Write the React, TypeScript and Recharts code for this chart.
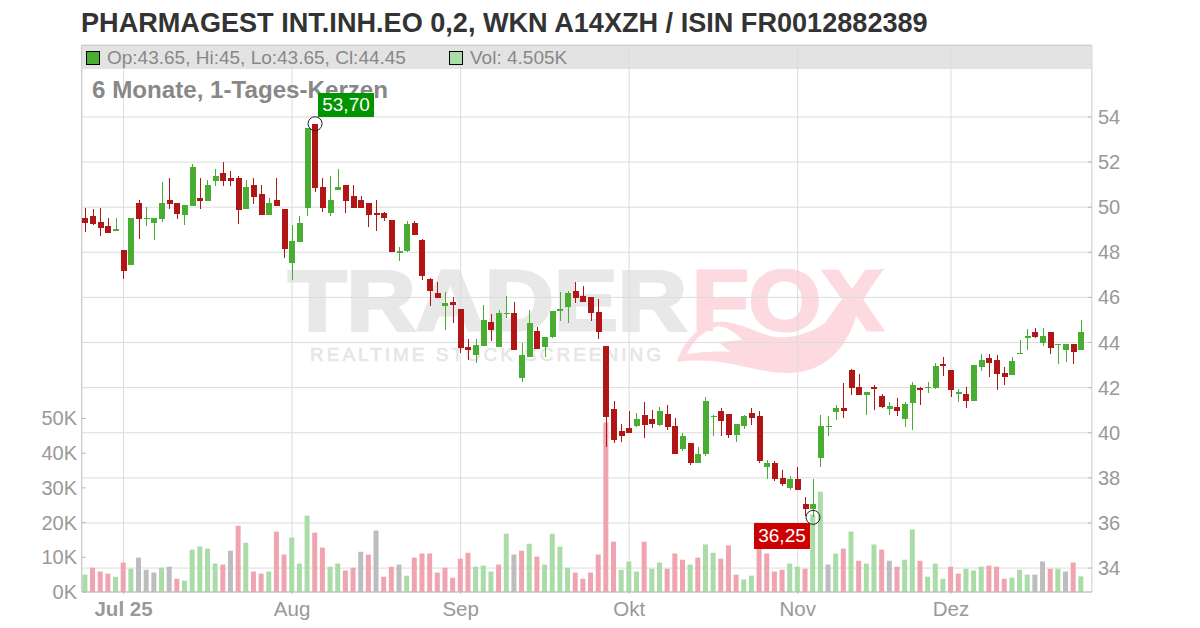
// PHARMAGEST candle chart, 6 months of daily candles with a volume pane.
import { Bar, CartesianGrid, Cell, ComposedChart, ReferenceDot, XAxis, YAxis } from 'recharts';

const opens = [
  49.53, 49.61, 49.35, 49.17, 48.95, 48.1, 47.44, 50.19, 49.48, 49.3,
  49.48, 50.33, 50.19, 49.66, 50.06, 50.41, 50.28, 51.17, 51.53, 51.3,
  51.3, 49.93, 50.99, 50.59, 49.66, 50.33, 49.93, 47.53, 48.46, 49.97,
  53.7, 50.9, 49.75, 50.77, 50.99, 50.51, 50.33, 50.2, 49.75, 49.75,
  49.44, 47.98, 48.07, 49.31, 48.55, 46.82, 46.2, 45.62, 45.8, 45.49,
  43.8, 43.45, 43.85, 44.91, 43.8, 45.27, 45.31, 42.43, 43.36, 44.51,
  43.8, 44.25, 45.4, 45.58, 46.29, 46.07, 46.02, 45.36, 43.85, 41.04,
  40.06, 40.19, 40.28, 40.77, 40.59, 40.33, 40.81, 40.28, 39.3, 39.53,
  38.64, 39.08, 40.68, 40.95, 40.81, 39.88, 40.28, 40.86, 40.73, 38.46,
  38.64, 38.01, 37.57, 37.97, 36.86, 36.64, 38.86, 40.24, 40.9, 41.08,
  42.77, 42.01, 41.66, 42.01, 41.61, 41.04, 41.13, 40.59, 41.3, 41.97,
  41.97, 41.97, 43.04, 42.77, 41.7, 41.7, 41.39, 42.9, 43.3, 43.21,
  42.64, 42.55, 43.48, 44.19, 44.46, 43.97, 44.46, 43.88, 43.66, 43.93, 43.65,
];
const highs = [
  49.97, 49.93, 49.97, 49.53, 49.53, 48.1, 49.53, 50.33, 50.01, 49.53,
  51.13, 51.3, 50.19, 50.1, 51.93, 51.3, 51.21, 51.7, 52.01, 51.61,
  51.39, 51.21, 51.3, 50.99, 50.41, 51.3, 49.93, 49.21, 49.61, 53.53,
  53.7, 51.3, 51.39, 51.7, 50.99, 50.99, 50.51, 50.2, 50.33, 49.8,
  49.44, 48.24, 49.4, 49.4, 48.6, 46.87, 46.69, 46.25, 46.02, 45.49,
  44.16, 44.16, 45.67, 45.27, 45.45, 46.07, 45.8, 43.98, 45.45, 44.69,
  44.25, 45.4, 46.25, 46.29, 46.69, 46.51, 46.02, 45.93, 43.85, 41.39,
  40.37, 40.95, 40.86, 41.35, 40.99, 41.13, 41.21, 40.64, 40.01, 39.53,
  39.39, 41.57, 40.77, 41.08, 40.81, 40.41, 40.77, 41.08, 40.95, 38.81,
  38.73, 38.37, 38.1, 38.5, 37.17, 37.97, 40.77, 40.73, 41.21, 42.19,
  42.81, 42.59, 41.79, 42.1, 41.7, 41.35, 41.53, 41.35, 42.24, 42.01,
  42.24, 43.08, 43.35, 42.77, 41.93, 42.01, 42.99, 43.48, 43.48, 43.44,
  42.9, 43.35, 44.1, 44.59, 44.64, 44.64, 44.46, 43.93, 43.93, 43.93, 45,
];
const lows = [
  48.9, 49.21, 48.73, 48.86, 48.95, 46.81, 47.44, 48.59, 49.17, 48.55,
  49.35, 49.93, 49.48, 49.21, 50.06, 49.93, 50.28, 50.95, 50.95, 50.95,
  49.26, 49.93, 50.15, 49.66, 49.66, 50.06, 47.75, 46.77, 48.46, 49.61,
  50.68, 49.79, 49.62, 50.77, 49.75, 49.97, 49.97, 49.13, 48.95, 49.4,
  48.02, 47.62, 48.02, 48.78, 46.78, 45.62, 45.98, 44.56, 44.87, 43.54,
  43.23, 43.09, 43.85, 44.07, 43.8, 45.09, 43.67, 42.25, 43.36, 43.72,
  43.36, 44.2, 44.96, 44.87, 45.76, 45.8, 44.96, 44.16, 39.39, 39.53,
  39.61, 39.97, 40.24, 39.75, 40.19, 40.28, 40.1, 39.04, 39.17, 38.55,
  38.64, 38.99, 39.84, 39.84, 39.75, 39.57, 40.15, 40.33, 38.64, 37.97,
  37.88, 37.66, 37.44, 37.48, 36.33, 36.25, 38.46, 39.84, 40.55, 40.64,
  41.66, 41.66, 40.77, 40.99, 41.08, 40.77, 40.73, 40.24, 40.1, 41.21,
  41.75, 41.93, 42.5, 41.57, 41.35, 41.08, 41.39, 42.73, 42.46, 41.88,
  42.1, 42.55, 43.48, 43.66, 44.19, 43.84, 43.48, 43.04, 43.13, 43.04, 43.65,
];
const closes = [
  49.3, 49.26, 49.08, 48.86, 49.04, 47.17, 49.53, 49.48, 49.53, 49.53,
  50.19, 50.15, 49.7, 50.1, 51.79, 50.28, 50.99, 51.39, 51.17, 51.17,
  49.88, 50.9, 50.46, 49.66, 50.19, 50.06, 48.15, 48.5, 49.3, 53.53,
  50.86, 49.97, 50.33, 50.91, 50.28, 49.97, 49.97, 49.66, 49.66, 49.53,
  48.02, 48.07, 49.26, 48.78, 46.96, 46.29, 45.98, 45.76, 45.67, 43.76,
  43.67, 43.89, 45, 44.56, 45.31, 45.31, 43.67, 43.45, 44.87, 43.72,
  44.25, 45.4, 45.49, 46.2, 45.98, 45.8, 45.31, 44.47, 40.68, 39.7,
  39.84, 39.97, 40.59, 40.33, 40.37, 40.95, 40.24, 39.04, 39.84, 38.64,
  39.04, 41.39, 40.73, 40.5, 39.88, 40.41, 40.73, 40.64, 38.73, 38.64,
  37.97, 37.75, 37.97, 37.48, 36.64, 36.86, 40.28, 40.28, 41.08, 40.95,
  41.97, 41.66, 41.79, 41.93, 41.13, 41.17, 40.95, 41.26, 42.1, 41.88,
  42.01, 42.95, 42.95, 41.88, 41.79, 41.39, 42.99, 43.21, 43.08, 42.59,
  42.46, 43.17, 43.53, 44.28, 44.24, 44.28, 43.75, 43.93, 43.93, 43.57, 44.45,
];
// volume in thousands
const volumes = [
  5, 7, 5.9, 5.3, 4.4, 8.5, 6.7, 9.9, 6.4, 5.6,
  7, 7.3, 3.8, 3.3, 12.2, 13.1, 12.5, 8.2, 7.9, 11.9,
  19.1, 14.2, 5.9, 5.3, 5.9, 17.4, 10.8, 15.7, 8.2, 22,
  17.1, 12.8, 7.3, 8.2, 6.2, 7, 11.6, 10.8, 17.7, 4.4,
  7.3, 7.9, 4.7, 9.9, 11.1, 11.1, 5.6, 7, 4.1, 9.6,
  11.3, 7.3, 7.6, 5.9, 7.9, 16.8, 10.8, 11.9, 13.9, 10.2,
  7.9, 16.8, 13.1, 7, 5.6, 3.8, 5.6, 10.8, 48.8, 14.5,
  6.4, 8.8, 5.9, 14.5, 6.7, 8.5, 6.7, 11.1, 9.3, 7.9,
  9.9, 13.7, 11.3, 9.6, 13.4, 5, 3.6, 4.7, 12.5, 11.1,
  5.9, 6.4, 8.2, 7.3, 6.7, 22.3, 28.9, 7.9, 11.1, 12.5,
  17.4, 9, 8.2, 13.7, 12.2, 9, 7.3, 9.3, 18, 9,
  4.4, 8.2, 3.8, 7.3, 5.3, 6.7, 6.2, 7.3, 7.6, 7.3,
  3.8, 4.1, 6.4, 5, 5, 8.8, 6.7, 6.7, 5.9, 8.5, 4.505,
];
// g = up day, d = down day, n = neutral (grey)
const volumeTones = (
  'gdddgdgnnn' + 'gndgggggdn' + 'dgddgddggg' + 'ddggddndnd' +
  'dngddddddd' + 'dgggdgndgd' + 'ggggdddddd' + 'gggdggdddg' +
  'dggdddggdd' + 'ddggdggngd' + 'gdggdndggd' + 'gggddgggdd' + 'dgggnndgndg'
).split('');

const priceTicks = [34, 36, 38, 40, 42, 44, 46, 48, 50, 52, 54];
const volumeTicks = [0, 10, 20, 30, 40, 50];
const monthTicks = [5, 27, 49, 71, 93, 113];
const monthLabels = ['Jul 25', 'Aug', 'Sep', 'Okt', 'Nov', 'Dez'];

const GREEN = '#49ad33';
const RED = '#b11616';
const TONE: Record<string, string> = { g: '#aadca8', d: '#f0a4af', n: '#bdbdbd' };
const GREY_TEXT = '#999999';
const FONT = '"Liberation Sans", Arial, sans-serif';

const rows = opens.map((open, i) => ({
  i,
  open,
  close: closes[i],
  range: [lows[i], highs[i]],
  volume: volumes[i],
}));

function Candle(props: any) {
  const { x, y, width, height, payload } = props;
  const [low, high] = payload.range;
  const pxPerUnit = height / (high - low);
  const top = y + (high - Math.max(payload.open, payload.close)) * pxPerUnit;
  const bodyH = Math.max(Math.abs(payload.open - payload.close) * pxPerUnit, 1);
  const color = payload.close >= payload.open ? GREEN : RED;
  const cx = x + width / 2;
  return (
    <g shapeRendering="crispEdges">
      <line x1={cx} x2={cx} y1={y} y2={y + height} stroke={color} strokeWidth={1} />
      <rect x={cx - 3} y={top} width={6} height={bodyH} fill={color} />
    </g>
  );
}

// recharts hands the ticks over 8px outside the plot area
function PriceTick({ x, y, payload }: any) {
  return (
    <g>
      <line x1={x - 12} x2={x - 8} y1={y} y2={y} stroke="#bbbbbb" />
      <text x={x - 2} y={y + 7} fontSize={20} fill={GREY_TEXT} fontFamily={FONT}>
        {payload.value}
      </text>
    </g>
  );
}

function VolumeTick({ x, y, payload }: any) {
  return (
    <g>
      <line x1={x + 8} x2={x + 12} y1={y} y2={y} stroke="#bbbbbb" />
      <text x={x + 3} y={y + 7} fontSize={20} fill={GREY_TEXT} fontFamily={FONT} textAnchor="end">
        {payload.value}K
      </text>
    </g>
  );
}

function MonthTick({ x, y, payload }: any) {
  const idx = monthTicks.indexOf(payload.value);
  return (
    <g>
      <line x1={x} x2={x} y1={y - 9} y2={y - 6} stroke="#bbbbbb" />
      <text
        x={x}
        y={y + 16}
        fontSize={20.5}
        fill={GREY_TEXT}
        fontFamily={FONT}
        fontWeight={idx === 0 ? 700 : 400}
        textAnchor="middle"
      >
        {monthLabels[idx]}
      </text>
    </g>
  );
}

function Watermark() {
  return (
    <svg width={1200} height={628} style={{ position: 'absolute', left: 0, top: 0 }}>
      <g fontFamily={FONT} fontWeight={700}>
        <text x={288} y={330} fontSize={85} textLength={399} lengthAdjust="spacingAndGlyphs" fill="#e8e8e8" stroke="#e8e8e8" strokeWidth={3}>
          TRADER
        </text>
        <text x={692} y={330} fontSize={85} textLength={191} lengthAdjust="spacingAndGlyphs" fill="#fddadf" stroke="#fddadf" strokeWidth={3}>
          FOX
        </text>
        <text x={310} y={361} fontSize={19} fontWeight={400} textLength={351} lengthAdjust="spacing" fill="#e6e6e6" stroke="#e6e6e6" strokeWidth={0.6}>
          REALTIME STOCK SCREENING
        </text>
      </g>
      <path
        fillRule="evenodd"
        fill="#fddadf"
        d="M677 362 C682 345 695 328 715 322 C735 320 750 330 770 336 C800 342 835 325 855 290 C865 277 875 270 885 268 C870 285 862 300 853 325 C843 352 822 372 790 373 C755 374 725 355 677 362 Z
           M687 354 C692 342 703 330 719 326 C730 328 738 335 742 340 C735 341 727 341 719 342 C722 346 727 349 730 352 C715 351 700 352 687 354 Z"
      />
    </svg>
  );
}

export default function App() {
  return (
    <div style={{ position: 'absolute', left: 0, top: 0, width: 1200, height: 628, background: '#fff', fontFamily: FONT, overflow: 'hidden' }}>
      <div style={{ position: 'absolute', left: 81, top: 7, fontSize: 27.1, fontWeight: 700, color: '#333', whiteSpace: 'nowrap' }}>
        PHARMAGEST INT.INH.EO 0,2, WKN A14XZH / ISIN FR0012882389
      </div>
      <div style={{ position: 'absolute', left: 82, top: 45, width: 1010, height: 24, background: '#e3e3e3' }} />
      <Watermark />
      <div style={{ position: 'absolute', left: 81, top: 45, width: 1011, height: 547, borderLeft: '1px solid #bbb', borderTop: '1px solid #bbb', borderRight: '1px solid #ddd', boxSizing: 'border-box' }} />

      <div style={{ position: 'absolute', left: 0, top: 0 }}>
        <ComposedChart
          width={1200}
          height={628}
          data={rows}
          margin={{ top: 45, right: 0, bottom: 0, left: 0 }}
        >
          <CartesianGrid xAxisId="candles" yAxisId="price" stroke="#dcdcdc" />
          <XAxis
            xAxisId="candles"
            dataKey="i"
            type="category"
            ticks={monthTicks}
            interval={0}
            height={36}
            padding={{ left: -0.6, right: 7 }}
            axisLine={{ stroke: '#bbbbbb' }}
            tickLine={false}
            tick={MonthTick}
          />
          <XAxis xAxisId="volume" dataKey="i" type="category" hide height={0} padding={{ left: -0.6, right: 7 }} />
          <YAxis
            yAxisId="volume"
            orientation="left"
            width={82}
            domain={[0, 157.6]}
            allowDataOverflow
            ticks={volumeTicks}
            interval={0}
            axisLine={false}
            tickLine={false}
            tick={VolumeTick}
          />
          <YAxis
            yAxisId="price"
            orientation="right"
            width={108}
            domain={[32.94, 57.19]}
            allowDataOverflow
            ticks={priceTicks}
            interval={0}
            axisLine={false}
            tickLine={false}
            tick={PriceTick}
          />
          <Bar xAxisId="volume" yAxisId="volume" dataKey="volume" barSize={5} isAnimationActive={false}>
            {rows.map((r) => (
              <Cell key={r.i} fill={TONE[volumeTones[r.i]]} />
            ))}
          </Bar>
          <Bar xAxisId="candles" yAxisId="price" dataKey="range" barSize={6} shape={Candle} isAnimationActive={false} />
          <ReferenceDot xAxisId="candles" yAxisId="price" x={30} y={53.7} r={7} fill="none" stroke="#222" strokeWidth={1} />
          <ReferenceDot xAxisId="candles" yAxisId="price" x={95} y={36.25} r={7} fill="none" stroke="#222" strokeWidth={1} />
        </ComposedChart>
      </div>

      <div style={{ position: 'absolute', left: 86, top: 51, width: 12, height: 12, background: GREEN, border: '1px solid #000' }} />
      <div style={{ position: 'absolute', left: 107, top: 47, fontSize: 19, color: '#888', whiteSpace: 'nowrap' }}>
        Op:43.65, Hi:45, Lo:43.65, Cl:44.45
      </div>
      <div style={{ position: 'absolute', left: 449, top: 51, width: 12, height: 12, background: '#aadca8', border: '1px solid #000' }} />
      <div style={{ position: 'absolute', left: 470, top: 47, fontSize: 19, color: '#888', whiteSpace: 'nowrap' }}>
        Vol: 4.505K
      </div>
      <div style={{ position: 'absolute', left: 92, top: 76, fontSize: 24.15, fontWeight: 700, color: '#888', whiteSpace: 'nowrap' }}>
        6 Monate, 1-Tages-Kerzen
      </div>
      <div style={{ position: 'absolute', left: 318, top: 93, width: 56, height: 24, lineHeight: '24px', background: '#009400', color: '#fff', fontSize: 19, textAlign: 'center' }}>
        53,70
      </div>
      <div style={{ position: 'absolute', left: 754, top: 523, width: 56, height: 26, lineHeight: '26px', background: '#cc0000', color: '#fff', fontSize: 19, textAlign: 'center' }}>
        36,25
      </div>
    </div>
  );
}
